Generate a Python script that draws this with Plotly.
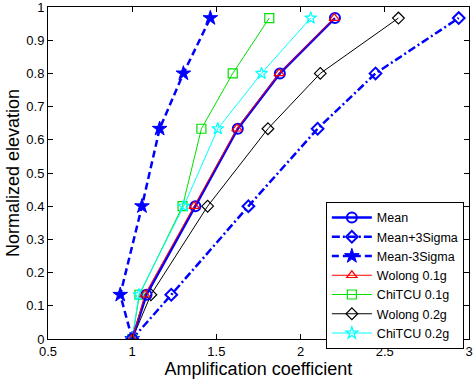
import plotly.graph_objects as go

elev = [0, 0.1333, 0.4, 0.6333, 0.8, 0.9667]
mean = [1.0, 1.085, 1.375, 1.627, 1.877, 2.204]
mean_p3 = [1.0, 1.232, 1.690, 2.101, 2.445, 2.939]
mean_m3 = [1.0, 0.929, 1.058, 1.163, 1.304, 1.464]
wolong01 = [1.0, 1.075, 1.368, 1.622, 1.873, 2.200]
chitcu01 = [1.0, 1.043, 1.299, 1.411, 1.597, 1.814]
wolong02 = [1.0, 1.111, 1.448, 1.806, 2.117, 2.581]
chitcu02 = [1.0, 1.040, 1.306, 1.508, 1.768, 2.060]

x_ticks = [0.5, 1, 1.5, 2, 2.5, 3]
y_ticks = [0, 0.1, 0.2, 0.3, 0.4, 0.5, 0.6, 0.7, 0.8, 0.9, 1]

fig = go.Figure()

def add(x, name, color, width, dash, symbol, size, msize_lw=1.2):
    fig.add_trace(go.Scatter(
        x=x, y=elev, name=name, mode="lines+markers",
        line=dict(color=color, width=width, dash=dash),
        marker=dict(symbol=symbol, size=size, color=color,
                    line=dict(color=color, width=msize_lw)),
    ))

add(wolong02, "Wolong 0.2g", "black", 1, "solid", "diamond-open", 9)
add(mean_p3, "Mean+3Sigma", "#0000ff", 2.5, "8px,3px,2px,3px", "diamond-open", 9, 2)
add(mean_m3, "Mean-3Sigma", "#0000ff", 2.5, "7px,4px", "star", 11, 1)
add(chitcu01, "ChiTCU 0.1g", "#00e000", 1, "solid", "square-open", 9)
add(chitcu02, "ChiTCU 0.2g", "#00ffff", 1, "solid", "star-open", 9)
add(mean, "Mean", "#0000ff", 2.5, "solid", "circle-open", 10, 2)
add(wolong01, "Wolong 0.1g", "#ff0000", 1, "solid", "triangle-up-open", 9)

order = ["Mean", "Mean+3Sigma", "Mean-3Sigma", "Wolong 0.1g", "ChiTCU 0.1g", "Wolong 0.2g", "ChiTCU 0.2g"]
for tr in fig.data:
    tr.legendrank = order.index(tr.name)

axis_common = dict(
    showline=True, linecolor="black", linewidth=1, mirror="ticks",
    ticks="inside", ticklen=5, tickcolor="black", showgrid=False, zeroline=False,
    automargin=False, ticklabeloverflow="allow",
    tickfont=dict(family="Liberation Sans, Arial", size=13, color="black"),
)

fig.update_layout(
    width=474, height=382,
    margin=dict(l=48, r=5, t=7, b=43),
    paper_bgcolor="white", plot_bgcolor="white",
    font=dict(family="Liberation Sans, Arial", color="black"),
    xaxis=dict(range=[0.5, 3], tickvals=x_ticks, ticktext=[str(v) for v in x_ticks],
               title=dict(text="Amplification coefficient", font=dict(size=18), standoff=2),
               **axis_common),
    yaxis=dict(range=[0, 1], tickvals=y_ticks, ticktext=[str(v) for v in y_ticks],
               title=dict(text="Normalized elevation", font=dict(size=18), standoff=2),
               **axis_common),
    legend=dict(x=0.66, y=0.413, xanchor="left", yanchor="top",
                bgcolor="white", bordercolor="black", borderwidth=1,
                font=dict(size=12.5, family="Liberation Sans, Arial"),
                tracegroupgap=0, itemwidth=40),
    showlegend=True,
)

fig.write_html("out.html", config={"displayModeBar": False},
               post_script="document.body.style.margin='0';document.body.style.overflow='hidden';")
